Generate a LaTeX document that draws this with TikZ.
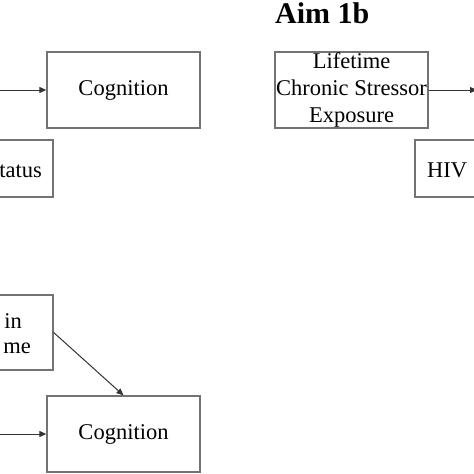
\documentclass[tikz,border=0pt]{standalone}
\usepackage{fontspec}
\setmainfont{Liberation Serif}
\usetikzlibrary{arrows.meta}
\begin{document}
\begin{tikzpicture}[x=1pt,y=-1pt,
  box/.style={draw=black!55, line width=1.3pt, rectangle, inner sep=0pt},
  txt/.style={font=\fontsize{22.5}{27}\selectfont, inner sep=0pt, align=center},
  conn/.style={draw=black!80, line width=1pt, -{Triangle[length=7pt,width=6pt]}}]
\useasboundingbox (0,0) rectangle (474,474);
\clip (0,0) rectangle (474,474);
% title
\node[font=\fontsize{30}{34}\bfseries\selectfont, inner sep=0pt, anchor=base west] (aim) at (275,23) {Aim 1b};
% boxes
\node[box, txt, minimum width=153pt, minimum height=76pt] (cog1) at (123.5,90) {Cognition};
\node[box, txt, minimum width=153pt, minimum height=76pt] (life) at (351.5,90) {Lifetime\\Chronic Stressor\\Exposure};
\node[box, minimum width=153pt, minimum height=57pt] (st) at (-23.5,168.5) {};
\node[txt, anchor=base east] (stt) at (42,177) {tatus};
\node[box, minimum width=153pt, minimum height=57pt] (hiv) at (491.5,168.5) {};
\node[txt, anchor=base west] (hivt) at (427,177) {HIV};
\node[box, minimum width=153pt, minimum height=75pt] (brain) at (-23.5,332.5) {};
\node[txt, anchor=base east] (bt1) at (22,328) {in};
\node[txt, anchor=base east] (bt2) at (31,353) {me};
\node[box, txt, minimum width=153pt, minimum height=76pt] (cog2) at (123.5,434) {Cognition};
% connectors
\coordinate (s1) at (-5,90);
\coordinate (e1) at (477,90);
\coordinate (s2) at (-5,434);
\draw[conn] (s1) -- (cog1.west);
\draw[conn] (life.east) -- (e1);
\draw[conn] (brain.east) -- (cog2.north);
\draw[conn] (s2) -- (cog2.west);
\end{tikzpicture}
\end{document}
